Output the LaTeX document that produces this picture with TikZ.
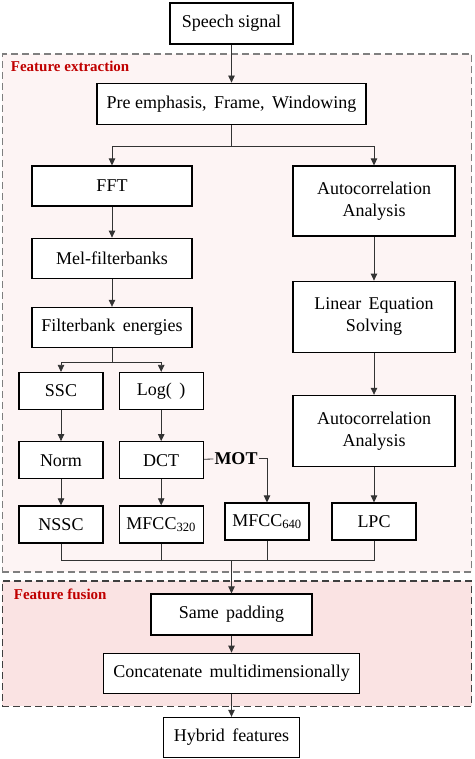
\documentclass[tikz,border=0pt]{standalone}
\usepackage{fontspec}
\setmainfont{Liberation Serif}
\usepackage{tikz}
\usetikzlibrary{positioning,arrows.meta,calc,fit,backgrounds}
\definecolor{extfill}{HTML}{FDF4F4}
\definecolor{fusfill}{HTML}{FAE3E3}
\definecolor{extline}{HTML}{7F7F7F}
\definecolor{fusline}{HTML}{3F3F3F}
\definecolor{grplabel}{HTML}{C00000}
\definecolor{wire}{HTML}{333333}

\begin{document}
\begin{tikzpicture}[
  x=1pt, y=1pt,
  font=\fontsize{18}{22}\selectfont,
  box/.style={
    draw=black, line width=1.2pt, fill=white,
    align=center, inner sep=2pt
  },
  wide/.style={box, minimum width=160pt, minimum height=40pt},
  tall/.style={box, minimum width=162pt, minimum height=71pt},
  small/.style={box, minimum width=84pt, minimum height=37pt},
  frame/.style={dashed, dash pattern=on 7pt off 4pt, line width=1.4pt},
  grouplabel/.style={font=\fontsize{15}{18}\selectfont\bfseries, text=grplabel, anchor=west, inner sep=0pt},
  line/.style={wire, line width=0.8pt},
  flow/.style={line, -{Triangle[length=7pt, width=6.5pt]}},
]
\useasboundingbox (0,0) rectangle (474,-759);

% ---------------- input and common preprocessing
\node[box, minimum width=123pt, minimum height=41pt] (sig) at (231.5,-23.5) {Speech signal};
\node[box, minimum width=269pt, minimum height=41pt, below=38pt of sig] (pre) {Pre emphasis,\, Frame,\, Windowing};

% ---------------- MFCC / SSC branch
\node[wide] (fft) at (112,-186) {FFT};
\node[wide, below=31pt of fft] (mel) {Mel-filterbanks};
\node[wide, below=28pt of mel] (fbe) {Filterbank\, energies};
\node[small] (ssc) at (61,-391) {SSC};
\node[small, right=15pt of ssc] (log) {Log(\, )};
\node[small, below=31pt of ssc] (norm) {Norm};
\node[small, below=31pt of log] (dct) {DCT};
\node[small, below=26pt of norm] (nssc) {NSSC};
\node[small, below=26pt of dct] (m320) {MFCC\textsubscript{320}};
\node[small] (m640) at (267,-521.5) {MFCC\textsubscript{640}};

% ---------------- LPC branch
\node[tall, minimum height=70pt] (acA) at (374,-201) {Autocorrelation\\Analysis};
\node[tall, below=44pt of acA] (les) {Linear\, Equation\\Solving};
\node[tall, below=42pt of les] (acB) {Autocorrelation\\Analysis};
\node[small] (lpc) at (374,-521.5) {LPC};

% ---------------- fusion and output
\node[box, minimum width=161pt, minimum height=41pt] (pad) at (231.5,-614.5) {Same\, padding};
\node[box, minimum width=256pt, minimum height=40pt, below=17pt of pad] (cat) {Concatenate\, multidimensionally};
\node[box, minimum width=136pt, minimum height=40pt, below=23pt of cat] (hyb) {Hybrid\, features};

% ---------------- group frames and labels
\begin{scope}[on background layer]
  \node[frame, draw=extline, fill=extfill, fit=(pre)(ssc)(nssc)(acA), inner xsep=16pt, inner ysep=28.5pt] (L1) {};
  \node[frame, draw=fusline, fill=fusfill, fit=(pad)(cat)(ssc.west|-pad)(acA.east|-cat), inner xsep=16pt, inner ysep=12.5pt] (L2) {};
\end{scope}
\node[grouplabel] (lab1) at ($(L1.north west)+(9pt,-13pt)$) {Feature extraction};
\node[grouplabel] (lab2) at ($(L2.north west)+(12pt,-14.5pt)$) {Feature fusion};

% ---------------- connectors
\draw[flow] (sig) -- (pre);
\coordinate (br1) at ([yshift=-22pt]pre.south);
\draw[line] (pre) -- (br1);
\draw[flow] (br1) -| (fft);
\draw[flow] (br1) -| (acA);
\draw[flow] (fft) -- (mel);
\draw[flow] (mel) -- (fbe);
\coordinate (br2) at ([yshift=-14pt]fbe.south);
\draw[line] (fbe) -- (br2);
\draw[flow] (br2) -| (ssc);
\draw[flow] (br2) -| (log);
\foreach \i/\j in {ssc/norm, norm/nssc, log/dct, dct/m320, acA/les, les/acB, acB/lpc}
  \draw[flow] (\i) -- (\j);

% MOT side path to the second MFCC set
\node[font=\fontsize{18}{22}\selectfont\bfseries, inner xsep=1pt, inner ysep=0pt] (mot) at (236,-458.5) {MOT};
\draw[line] (dct) -- (mot);
\draw[flow] (mot.east) -| (m640.north);

% merge of the four feature sets
\coordinate (mrg) at ([yshift=-17pt]m320.south -| pad.north);
\foreach \n in {nssc, m320, m640, lpc}
  \draw[line] (\n.south) |- (mrg);
\draw[flow] (mrg) -- (pad);
\draw[flow] (pad) -- (cat);
\draw[flow] (cat) -- (hyb);

\end{tikzpicture}
\end{document}
